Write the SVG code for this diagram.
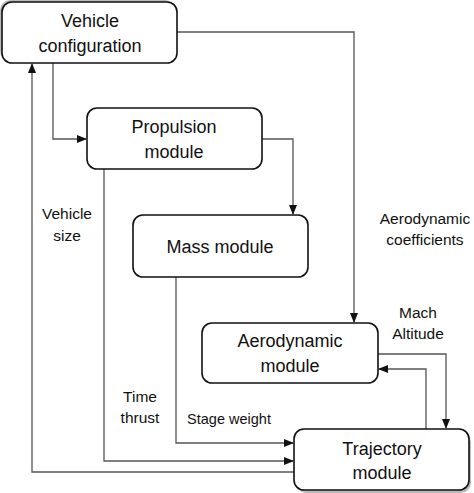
<svg xmlns="http://www.w3.org/2000/svg" width="474" height="493" viewBox="0 0 474 493">
<style>
.box{fill:#fff;stroke:#111;stroke-width:1.6}
.shadow{fill:#bbb}
.t{font-family:"Liberation Sans",Arial,sans-serif;font-size:18px;fill:#111;text-anchor:middle}
.l{font-family:"Liberation Sans",Arial,sans-serif;font-size:15.5px;fill:#111;text-anchor:middle}
.c{fill:none;stroke:#555;stroke-width:1.3}
</style>
<defs>
<marker id="ah" markerWidth="10" markerHeight="8" refX="9" refY="4" orient="auto" markerUnits="userSpaceOnUse">
<path d="M0,0 L10,4 L0,8 Z" fill="#111"/>
</marker>
</defs>
<rect width="474" height="493" fill="#fff"/>
<g id="connectors">
<path class="c" d="M53,63 V139 H86" marker-end="url(#ah)"/>
<path class="c" d="M177,32 H354 V322" marker-end="url(#ah)"/>
<path class="c" d="M262,139 H293 V214" marker-end="url(#ah)"/>
<path class="c" d="M378,354 H446 V428" marker-end="url(#ah)"/>
<path class="c" d="M426,429 V369 H379" marker-end="url(#ah)"/>
<path class="c" d="M176,277 V443 H293" marker-end="url(#ah)"/>
<path class="c" d="M104,169 V461 H293" marker-end="url(#ah)"/>
<path class="c" d="M294,472 H32 V64" marker-end="url(#ah)"/>
</g>
<g id="vehicle-configuration">
<rect class="shadow" x="0" y="0" width="175" height="61" rx="10"/>
<rect class="box" x="2" y="2" width="175" height="61" rx="10"/>
<text class="t" x="90" y="27">Vehicle</text>
<text class="t" x="90" y="52">configuration</text>
</g>
<g id="propulsion-module">
<rect class="box" x="87" y="108" width="175" height="61" rx="10"/>
<text class="t" x="174" y="133">Propulsion</text>
<text class="t" x="174" y="158">module</text>
</g>
<g id="mass-module">
<rect class="box" x="133" y="215" width="175" height="62" rx="10"/>
<text class="t" x="220" y="253">Mass module</text>
</g>
<g id="aerodynamic-module">
<rect class="box" x="202" y="323" width="176" height="60" rx="10"/>
<text class="t" x="290" y="347">Aerodynamic</text>
<text class="t" x="290" y="372">module</text>
</g>
<g id="trajectory-module">
<rect class="shadow" x="296" y="432" width="175" height="61" rx="10"/>
<rect class="box" x="294" y="429" width="175" height="61" rx="10"/>
<text class="t" x="382" y="455">Trajectory</text>
<text class="t" x="382" y="479">module</text>
</g>
<g id="labels">
<text class="l" x="425" y="224">Aerodynamic</text>
<text class="l" x="425" y="245">coefficients</text>
<text class="l" x="418" y="318">Mach</text>
<text class="l" x="418" y="339">Altitude</text>
<text class="l" x="67" y="219">Vehicle</text>
<text class="l" x="67" y="241">size</text>
<text class="l" x="140" y="402">Time</text>
<text class="l" x="140" y="423">thrust</text>
<text class="l" x="229" y="424" style="font-size:14.5px">Stage weight</text>
</g>
</svg>
